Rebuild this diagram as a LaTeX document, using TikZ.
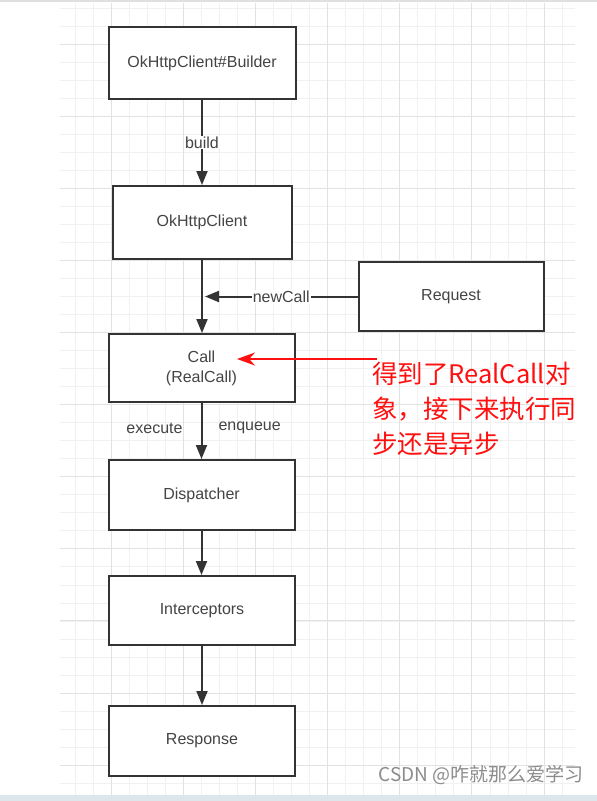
\documentclass[tikz,border=0pt]{standalone}
\usepackage{fontspec}
\setmainfont{Liberation Sans}
\newfontfamily\cjkfont{Noto Sans CJK SC}
\usetikzlibrary{arrows.meta}
\definecolor{boxline}{HTML}{333333}
\definecolor{txt}{HTML}{444444}
\definecolor{gridminor}{HTML}{F1F1F1}
\definecolor{gridmajor}{HTML}{E2E2E2}
\definecolor{band}{HTML}{DDE6EA}
\definecolor{wm}{HTML}{8C8C8C}
\definecolor{notered}{HTML}{FF1010}
\begin{document}
\begin{tikzpicture}[x=1pt,y=-1pt,
  box/.style={draw=boxline, line width=2pt, fill=white, minimum width=186pt, minimum height=70pt,
    font=\fontsize{16}{20}\selectfont, text=txt, inner sep=0pt},
  flow/.style={draw=boxline, line width=2pt, -{Triangle[length=14pt,width=11pt]}},
  lbl/.style={font=\fontsize{16}{19}\selectfont, text=txt, inner sep=1pt},
]
\useasboundingbox (0,0) rectangle (597,801);
\fill[white] (0,0) rectangle (597,801);
% grid
\foreach \k in {-1,...,26}{
  \pgfmathsetmacro{\xx}{544-18.03*\k}
  \draw[gridminor, line width=0.8pt] (\xx,3) -- (\xx,795);
}
\foreach \k in {-2,...,41}{
  \pgfmathsetmacro{\yy}{44+18.03*\k}
  \draw[gridminor, line width=0.8pt] (60,\yy) -- (575,\yy);
}
\foreach \k in {0,4,...,24}{
  \pgfmathsetmacro{\xx}{544-18.03*\k}
  \draw[gridmajor, line width=1pt] (\xx,3) -- (\xx,795);
}
\foreach \k in {0,4,...,40}{
  \pgfmathsetmacro{\yy}{44+18.03*\k}
  \draw[gridmajor, line width=1pt] (60,\yy) -- (575,\yy);
}
\fill[band] (0,795) rectangle (597,801);
\fill[black!12] (0,0) rectangle (597,2);

% boxes
\node[box, minimum width=187pt, minimum height=72pt] (builder) at (202,63) {OkHttpClient\#Builder};
\node[box, minimum width=179pt, minimum height=73pt] (client) at (202,222.5) {OkHttpClient};
\node[box, minimum width=185pt, minimum height=69pt] (request) at (451,296.5) {Request};
\node[box, minimum width=186pt, minimum height=68pt, align=center] (call) at (201.5,368) {Call\\(RealCall)};
\node[box] (dispatcher) at (201.5,495) {Dispatcher};
\node[box, minimum height=69pt] (interceptors) at (202,610.5) {Interceptors};
\node[box] (response) at (202,741) {Response};

% connectors
\draw[flow] (builder.south) -- (builder.south |- client.north) node[midway, fill=white, lbl] {build};
\draw[flow] (client.south) -- (client.south |- call.north);
\coordinate (join) at ([xshift=3pt]client.south |- request.west);
\draw[flow] (request.west) -- (join) node[midway, fill=white, lbl] {newCall};
\draw[flow] (call.south) -- (call.south |- dispatcher.north)
  node[pos=0.45, left=17pt, lbl] {execute}
  node[pos=0.45, right=15pt, lbl] {enqueue};
\draw[flow] (dispatcher.south) -- (dispatcher.south |- interceptors.north);
\draw[flow] (interceptors.south) -- (interceptors.south |- response.north);

% red note
\node[font=\cjkfont\fontsize{25.5}{35}\selectfont, text=notered, align=left, anchor=north west, inner sep=0pt] (note) at (372,362) {得到了RealCall对\\象，接下来执行同\\步还是异步};
\coordinate (tip) at (237,359);
\draw[notered, line width=2pt, -{Stealth[length=18pt,width=13pt]}] ([xshift=5pt]note.north west |- tip) -- (tip);

% watermark
\node[font=\cjkfont\fontsize{19}{22}\selectfont, text=wm, anchor=base east, inner sep=0pt] (wmark) at (584,781) {CSDN @咋就那么爱学习};
\end{tikzpicture}
\end{document}
